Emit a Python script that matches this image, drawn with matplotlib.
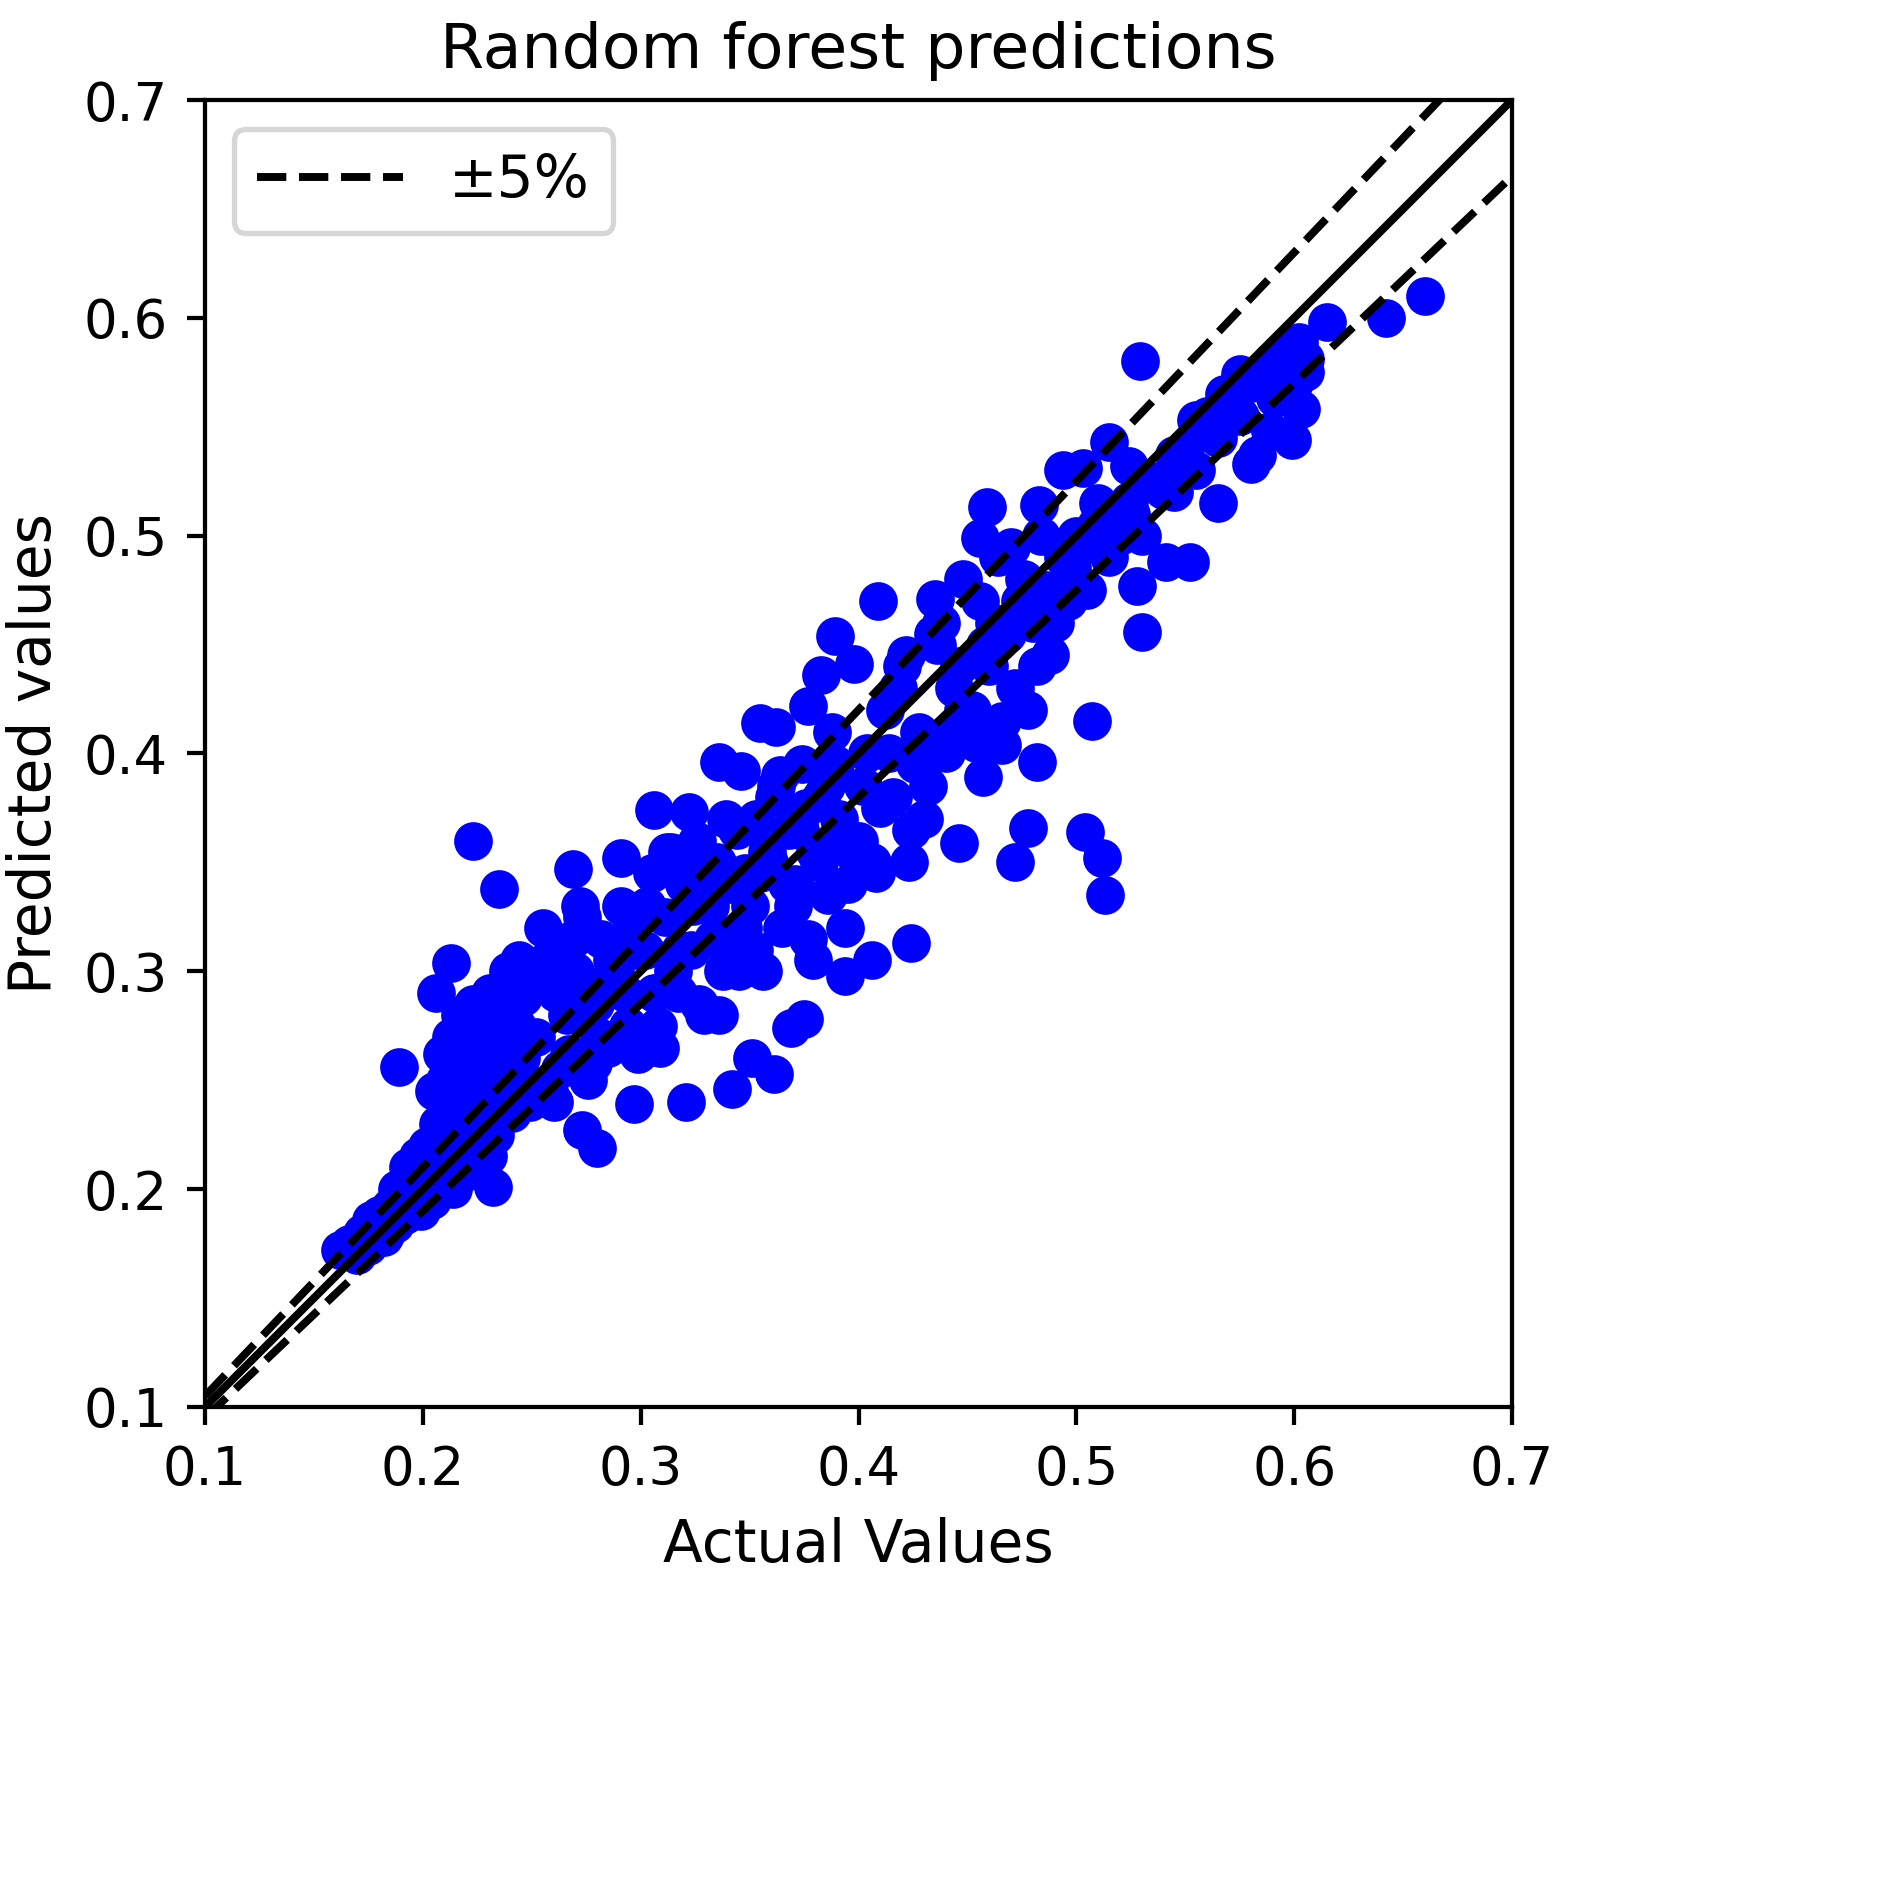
import matplotlib
matplotlib.use("Agg")
import matplotlib.pyplot as plt

# Outlying / readable points
out_x = [0.223,0.235,0.189,0.213,0.206,0.269,0.291,0.306,0.322,0.280,0.273,0.321,0.342,0.297,0.232,0.361,0.351,0.375,0.369,0.394,0.406,0.424,0.423,0.446,0.472,0.478,0.504,0.512,0.513,0.482,0.507,0.466,0.457,0.530,0.528,0.529,0.515,0.541,0.552,0.565,0.580,0.599,0.603,0.591,0.615,0.642,0.660,0.602,0.605,0.589,0.575,0.568,0.555,0.545,0.540,0.583,0.589,0.459,0.456,0.494,0.503,0.483,0.524,0.524,0.509,0.509,0.409,0.389,0.383,0.398,0.435,0.448,0.355,0.362,0.377,0.336,0.346]
out_y = [0.360,0.338,0.256,0.304,0.290,0.347,0.352,0.374,0.373,0.219,0.227,0.240,0.246,0.239,0.201,0.253,0.260,0.278,0.274,0.298,0.305,0.313,0.350,0.359,0.350,0.366,0.364,0.352,0.335,0.396,0.415,0.404,0.389,0.456,0.477,0.580,0.543,0.488,0.488,0.515,0.533,0.544,0.558,0.563,0.598,0.600,0.610,0.589,0.581,0.576,0.574,0.565,0.553,0.537,0.521,0.537,0.548,0.513,0.499,0.530,0.531,0.514,0.532,0.516,0.505,0.496,0.470,0.454,0.436,0.441,0.471,0.480,0.414,0.412,0.422,0.396,0.392]

# Dense core points
core_x = [0.162,0.166,0.170,0.172,0.175,0.178,0.180,0.183,0.185,0.187,0.190,0.192,0.194,0.196,0.198,0.200,0.202,0.204,0.176,0.182,0.188,0.193,0.199,
          0.205,0.207,0.209,0.211,0.213,0.215,0.217,0.219,0.221,0.223,0.225,0.227,0.229,0.231,0.233,0.235,0.237,0.239,0.241,0.243,0.245,0.247,0.249,
          0.206,0.210,0.214,0.218,0.222,0.226,0.230,0.234,0.238,0.242,0.246,0.250,0.212,0.220,0.228,0.236,0.244,
          0.252,0.255,0.258,0.261,0.264,0.267,0.270,0.273,0.276,0.279,0.282,0.285,0.288,0.291,0.294,0.297,0.254,0.260,0.266,0.272,0.278,0.284,0.290,0.296,0.257,0.263,0.269,0.275,0.281,0.287,0.293,0.299,
          0.302,0.305,0.308,0.311,0.314,0.317,0.320,0.323,0.326,0.329,0.332,0.335,0.338,0.341,0.344,0.347,0.303,0.309,0.315,0.321,0.327,0.333,0.339,0.345,0.306,0.312,0.318,0.324,0.330,0.336,0.342,0.348,
          0.350,0.353,0.356,0.359,0.362,0.365,0.368,0.371,0.374,0.377,0.380,0.383,0.386,0.389,0.392,0.395,0.352,0.358,0.364,0.370,0.376,0.382,0.388,0.394,0.355,0.361,0.367,0.373,0.379,0.385,0.391,0.397,
          0.400,0.404,0.408,0.412,0.416,0.420,0.424,0.428,0.432,0.436,0.440,0.444,0.448,0.402,0.410,0.418,0.426,0.434,0.442,0.406,0.414,0.422,0.430,0.438,0.446,
          0.452,0.456,0.460,0.464,0.468,0.472,0.476,0.480,0.484,0.488,0.492,0.496,0.454,0.462,0.470,0.478,0.486,0.494,0.458,0.466,0.474,0.482,0.490,0.498,
          0.500,0.505,0.510,0.515,0.520,0.525,0.530,0.535,0.540,0.545,0.550,0.555,0.560,0.565,0.570,0.575,0.580,0.585,0.590,0.595,0.600,0.605]
core_y = [0.172,0.175,0.170,0.180,0.174,0.178,0.188,0.180,0.192,0.184,0.196,0.188,0.205,0.193,0.215,0.200,0.220,0.195,0.186,0.178,0.200,0.210,0.190,
          0.245,0.230,0.262,0.215,0.270,0.240,0.280,0.225,0.255,0.285,0.210,0.265,0.245,0.290,0.225,0.270,0.255,0.300,0.235,0.275,0.260,0.295,0.240,
          0.205,0.250,0.200,0.258,0.235,0.275,0.215,0.283,0.240,0.262,0.288,0.248,0.228,0.208,0.230,0.250,0.305,
          0.270,0.320,0.245,0.290,0.310,0.262,0.300,0.325,0.250,0.285,0.315,0.265,0.300,0.330,0.275,0.310,0.295,0.240,0.280,0.330,0.258,0.295,0.270,0.320,0.305,0.255,0.315,0.285,0.270,0.305,0.290,0.262,
          0.310,0.345,0.275,0.325,0.355,0.290,0.340,0.310,0.360,0.280,0.330,0.350,0.300,0.340,0.365,0.320,0.330,0.265,0.300,0.355,0.285,0.315,0.370,0.300,0.290,0.355,0.310,0.330,0.345,0.280,0.315,0.345,
          0.330,0.370,0.300,0.350,0.385,0.320,0.365,0.340,0.395,0.315,0.355,0.380,0.335,0.395,0.360,0.340,0.310,0.355,0.390,0.330,0.375,0.350,0.410,0.320,0.345,0.380,0.340,0.365,0.305,0.385,0.370,0.355,
          0.360,0.400,0.345,0.420,0.380,0.440,0.365,0.410,0.385,0.450,0.400,0.430,0.420,0.385,0.375,0.430,0.395,0.455,0.410,0.350,0.400,0.445,0.370,0.460,0.440,
          0.420,0.470,0.440,0.490,0.455,0.430,0.480,0.460,0.500,0.445,0.475,0.470,0.405,0.460,0.495,0.420,0.475,0.490,0.450,0.415,0.470,0.440,0.460,0.485,
          0.500,0.475,0.515,0.490,0.500,0.510,0.500,0.525,0.525,0.520,0.540,0.530,0.555,0.545,0.560,0.555,0.570,0.575,0.580,0.585,0.570,0.575]

n_out = min(len(out_x), len(out_y))
n_core = min(len(core_x), len(core_y))
xs = out_x[:n_out] + core_x[:n_core]
ys = out_y[:n_out] + core_y[:n_core]

fig = plt.figure(figsize=(5, 5), dpi=380.4)
ax = fig.add_axes([205/1902, 1 - 1407/1902, 1307/1902, 1307/1902])
ax.scatter(xs, ys, color='blue', s=40)
ax.plot([0.1, 0.7], [0.1, 0.7], color='black', lw=1.5)
ax.plot([0.1, 0.7], [0.105, 0.735], color='black', ls='--', lw=1.5, label='±5%')
ax.plot([0.1, 0.7], [0.095, 0.665], color='black', ls='--', lw=1.5)
ax.set_xlim(0.1, 0.7)
ax.set_ylim(0.1, 0.7)
ax.set_xticks([0.1, 0.2, 0.3, 0.4, 0.5, 0.6, 0.7])
ax.set_yticks([0.1, 0.2, 0.3, 0.4, 0.5, 0.6, 0.7])
ax.tick_params(labelsize=10)
ax.set_xlabel('Actual Values', fontsize=11)
ax.set_ylabel('Predicted values', fontsize=11)
ax.set_title('Random forest predictions', fontsize=12)
ax.legend(loc='upper left', fontsize=11, handlelength=2.5)
fig.savefig('out.png', dpi=380.4)
